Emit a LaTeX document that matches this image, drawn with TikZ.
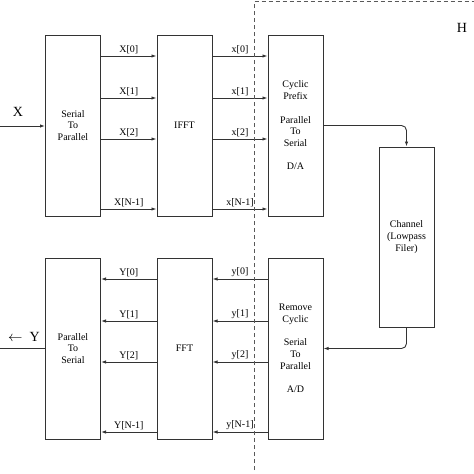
\documentclass[tikz,border=0pt]{standalone}
\usepackage{fontspec}
\setmainfont{Liberation Serif}
\usetikzlibrary{arrows.meta}

\tikzset{
  blockbox/.style={draw=black!80, line width=1pt, minimum width=55pt, minimum height=181pt,
    align=center, inner sep=0pt, font=\fontsize{10}{11.7}\selectfont},
  sig/.style={draw=black!80, line width=0.9pt},
  sigarrow/.style={sig, -{Latex[length=5pt,width=3.5pt]}},
  siglabel/.style={font=\fontsize{10}{11}\selectfont, inner sep=1.5pt}
}

\begin{document}
\begin{tikzpicture}[x=1pt, y=-1pt]
      \useasboundingbox (0,0) rectangle (474,474);
      % transmitter
      \node[blockbox] (sp) at (73,125.5) {Serial\\To\\Parallel};
      \node[blockbox] (ifft) at (184.5,125.5) {IFFT};
      \node[blockbox] (cp) at (295.5,125.5) {Cyclic\\Prefix\\[11.7pt]Parallel\\To\\Serial\\[11.7pt]D/A};
      % receiver
      \node[blockbox] (ps) at (73,348.5) {Parallel\\To\\Serial};
      \node[blockbox] (fft) at (184.5,348.5) {FFT};
      \node[blockbox] (rc) at (295.5,348.5) {Remove\\Cyclic\\[11.7pt]Serial\\To\\Parallel\\[11.7pt]A/D};
      \node[blockbox, minimum height=180pt] (ch) at (406.5,237) {Channel\\(Lowpass\\Filer)};

      \coordinate (xin) at (0,126);
      \coordinate (yout) at (0,348);
      \draw[sigarrow] (xin) -- (sp.west |- xin);
      \node[font=\fontsize{14}{14}\selectfont] (xlab) at (18,112) {X};
      \draw[sig] (ps.west |- yout) -- (yout);
      \node[font=\fontsize{14}{14}\selectfont] (ylab) at (24,337) {$\leftarrow$\ \ Y};

      \foreach \yy/\k in {56/0, 98/1, 139/2, 209/N-1} {
        \draw[sigarrow] (sp.east |- 0,\yy) -- (ifft.west |- 0,\yy) node[midway, above, siglabel] {X[\k]};
        \draw[sigarrow] (ifft.east |- 0,\yy) -- (cp.west |- 0,\yy) node[midway, above, siglabel] {x[\k]};
      }
      \foreach \yy/\k in {279/0, 321/1, 362/2, 432/N-1} {
        \draw[sigarrow] (fft.west |- 0,\yy) -- (ps.east |- 0,\yy) node[midway, above, siglabel] {Y[\k]};
        \draw[sigarrow] (rc.west |- 0,\yy) -- (fft.east |- 0,\yy) node[midway, above, siglabel] {y[\k]};
      }

      \draw[sigarrow, rounded corners=5pt] (cp.east) -| (ch.north);
      \draw[sigarrow, rounded corners=5pt] (ch.south) |- (rc.east);

      % channel region
      \coordinate (htop) at (254,1.5);
      \draw[black!65, line width=0.9pt, dash pattern=on 4pt off 3pt] (254,470) -- (htop) -- (474,1.5);
      \node[font=\fontsize{14}{14}\selectfont] (hlab) at (462,28) {H};
    \end{tikzpicture}
\end{document}
